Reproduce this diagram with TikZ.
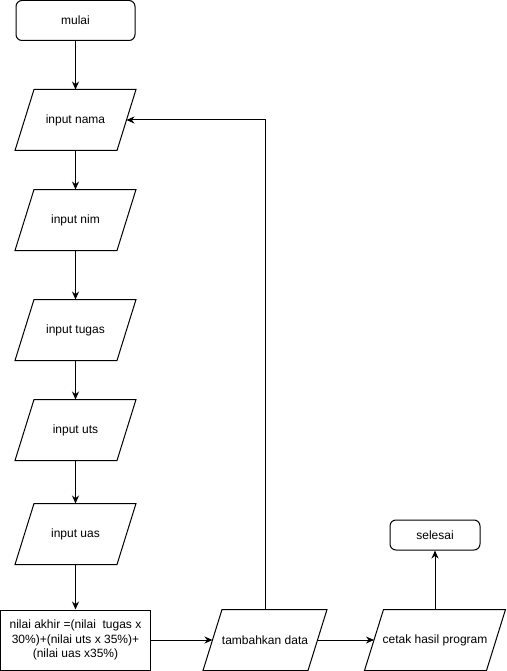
\documentclass[tikz,border=0pt]{standalone}
\usepackage{fontspec}
\setmainfont{Liberation Sans}
\usetikzlibrary{arrows.meta}
\tikzset{>={Stealth[width=7pt,length=8pt]}}

\begin{document}
\begin{tikzpicture}[
    x = 1pt, y = -1pt,
    font = \fontsize{12}{14.5}\selectfont,
    line width = 1pt,
    terminal/.style = {draw, rounded corners=6pt, inner sep=0pt},
    io/.style = {inner sep=0pt, minimum height=60pt},
    process/.style = {draw, align=center, inner sep=0pt,
        minimum width=150pt, minimum height=60pt}
  ]
  \useasboundingbox (0,0) rectangle (506,671);

  \node[terminal, minimum width=119pt, minimum height=40pt] (mulai) at (75.5,20.5) {mulai};
  \node[io, minimum width=101pt] (nama) at (75.5,120) {input nama};
  \node[io, minimum width=101pt] (nim) at (75.5,220) {input nim};
  \node[io, minimum width=101pt] (tugas) at (75.5,330) {input tugas};
  \node[io, minimum width=101pt] (uts) at (75.5,430) {input uts};
  \node[io, minimum width=101pt] (uas) at (75.5,534) {input uas};
  \node[process] (nilai) at (75.5,640)
    {nilai akhir =(nilai\ \ tugas x\\30\%)+(nilai uts x 35\%)+\\(nilai uas x35\%)};
  \node[io, minimum width=104pt] (tambah) at (265,640) {tambahkan data};
  \node[io, minimum width=121pt] (cetak) at (435,640) {cetak hasil program};
  \node[terminal, minimum width=90pt, minimum height=30pt] (selesai) at (435,535) {selesai};

  % parallelogram outlines
  \foreach \n in {nama, nim, tugas, uts, uas, tambah, cetak}
    \draw ([xshift=-9.5pt]\n.south west) -- ([xshift=9.5pt]\n.north west)
      -- ([xshift=9.5pt]\n.north east) -- ([xshift=-9.5pt]\n.south east) -- cycle;

  \draw[->] (mulai) -- (nama);
  \draw[->] (nama) -- (nim);
  \draw[->] (nim) -- (tugas);
  \draw[->] (tugas) -- (uts);
  \draw[->] (uts) -- (uas);
  \draw[->] (uas) -- (nilai);
  \draw[->] (nilai) -- (tambah);
  \draw[->] (tambah) -- (cetak);
  \draw[->] (cetak) -- (selesai);
  \draw[->] (tambah.north) |- (nama.east);
\end{tikzpicture}
\end{document}
